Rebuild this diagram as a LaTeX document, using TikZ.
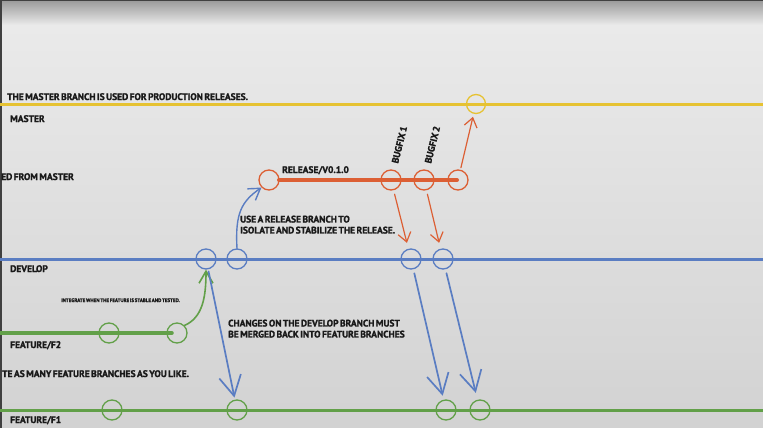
\documentclass[tikz,border=0pt]{standalone}
\usepackage{fontspec}
\setmainfont{PT Sans}[WordSpace=0.6,FakeBold=1.6]
\usetikzlibrary{arrows.meta,positioning}
\definecolor{masteryellow}{HTML}{E6C232}
\definecolor{releaseorange}{HTML}{DC5F34}
\definecolor{developblue}{HTML}{5A7DC2}
\definecolor{featuregreen}{HTML}{62A049}
\definecolor{paper}{HTML}{EAEAEA}
\definecolor{paperdark}{HTML}{D2D2D2}
\tikzset{commit/.style={circle,draw,minimum size=20pt,inner sep=0pt,line width=1.3pt}}
\tikzset{branch/.style={line width=3pt}}
\tikzset{lbl/.style={anchor=base west,inner sep=0pt,text=black!90,font=\fontsize{9.5}{11}\selectfont\bfseries}}
\tikzset{tiny/.style={anchor=base west,inner sep=0pt,text=black!90,font=\fontsize{5}{6}\selectfont\bfseries}}

\begin{document}
\begin{tikzpicture}[x=1pt,y=-1pt,line cap=round]
			\useasboundingbox (0,0) rectangle (763,428);
			% paper
			\shade[top color=paper,bottom color=paperdark] (0,25) rectangle (763,428);
			\shade[top color=black!40,bottom color=paper] (0,0) rectangle (763,25);
			\draw[black!75,line width=2pt] (1,0) -- (1,428);
			\draw[black!75,line width=1pt] (0,0.5) -- (763,0.5);
			% branches
			\draw[branch,masteryellow] (0,104) -- (763,104);
			\draw[branch,developblue] (0,259) -- (763,259);
			\draw[branch,featuregreen] (0,410) -- (763,410);
			\draw[branch,featuregreen,line width=3.5pt] (0,333) -- (172,333);
			\draw[branch,releaseorange,line width=4pt] (279,180) -- (457,180);
			% commits
			\node[commit,masteryellow,minimum size=19pt] (m1) at (476,104) {};
			\node[commit,releaseorange] (r0) at (269,180) {};
			\node[commit,releaseorange] (r1) at (391,180) {};
			\node[commit,releaseorange] (r2) at (424,180) {};
			\node[commit,releaseorange] (r3) at (458,180) {};
			\node[commit,developblue] (d1) at (206,259) {};
			\node[commit,developblue] (d2) at (237,259) {};
			\node[commit,developblue] (d3) at (411,259) {};
			\node[commit,developblue] (d4) at (443,259) {};
			\node[commit,featuregreen] (f21) at (109,333) {};
			\node[commit,featuregreen] (f22) at (177,333) {};
			\node[commit,featuregreen] (f11) at (112,410) {};
			\node[commit,featuregreen] (f12) at (237,410) {};
			\node[commit,featuregreen] (f13) at (446,410) {};
			\node[commit,featuregreen] (f14) at (480,410) {};
			% labels
			\node[lbl] (tmaster) at (7,100) {THE MASTER BRANCH IS USED FOR PRODUCTION RELEASES.};
			\node[lbl] (lmaster) at (10,122) {MASTER};
			\node[lbl] (tfrom) at (1,180) {ED FROM MASTER};
			\node[lbl] (lrelease) at (282,173) {RELEASE/V0.1.0};
			\node[lbl,rotate=76] (lbug1) at (398,164) {BUGFIX 1};
			\node[lbl,rotate=76] (lbug2) at (431,164) {BUGFIX 2};
			\node[lbl,align=left,anchor=north west] (trelease) at (240,215.5) {USE A RELEASE BRANCH TO\\ISOLATE AND STABILIZE THE RELEASE.};
			\node[lbl] (ldevelop) at (10,272) {DEVELOP};
			\node[tiny] (tintegrate) at (61,302) {INTEGRATE WHEN THE FEATURE IS STABLE AND TESTED.};
			\node[lbl] (lf2) at (10,348) {FEATURE/F2};
			\node[lbl,align=left,anchor=north west] (tchanges) at (228,319.5) {CHANGES ON THE DEVELOP BRANCH MUST\\BE MERGED BACK INTO FEATURE BRANCHES};
			\node[lbl] (tmany) at (2,377) {TE AS MANY FEATURE BRANCHES AS YOU LIKE.};
			\node[lbl] (lf1) at (10,423) {FEATURE/F1};
			% merges
			\path[releaseorange,line width=1.2pt,-{Straight Barb[length=9pt,width=13pt]}]
				(r3) edge[shorten <=2pt,shorten >=3pt] (m1)
				(r1) edge[shorten <=4pt,shorten >=6pt] (d3)
				(r2) edge[shorten <=4pt,shorten >=6pt] (d4);
			\draw[developblue,line width=1.4pt,-{Straight Barb[length=11pt,width=14pt]}]
				(d2.north) .. controls +(-2,-35) and +(-20,14) .. (r0.south west);
			\draw[featuregreen,line width=1.6pt,-{Straight Barb[length=12pt,width=14pt]}]
				(f22.north east) .. controls +(18,-8) and +(0,28) .. (d1.south);
			\path[developblue,line width=1.7pt,-{Straight Barb[length=20pt,width=22pt]}]
				(d1) edge[shorten <=2pt,shorten >=2pt] (f12)
				(d3) edge[shorten <=4pt,shorten >=4pt] (f13)
				(d4) edge[shorten <=4pt,shorten >=7pt] (f14);
		\end{tikzpicture}
\end{document}
